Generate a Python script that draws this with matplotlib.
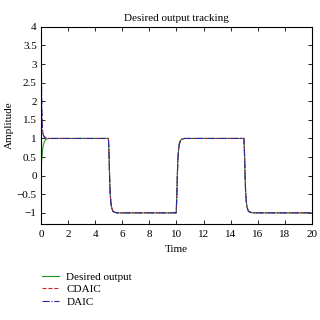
import matplotlib
matplotlib.use("Agg")
import matplotlib.pyplot as plt

plt.rcParams["font.family"] = ["Liberation Serif", "DejaVu Serif"]
plt.rcParams["font.size"] = 8

# time samples (step changes at 5, 10, 15)
time = [0.0, 0.02, 0.05, 0.1, 0.15, 0.2, 0.3, 0.4, 0.6,
        4.98, 5.03, 5.06, 5.1, 5.15, 5.2, 5.3, 5.4, 5.6,
        9.98, 10.03, 10.06, 10.1, 10.15, 10.2, 10.3, 10.4, 10.6,
        14.98, 15.03, 15.06, 15.1, 15.15, 15.2, 15.3, 15.4, 15.6,
        20.0]

desired = [0.0, 0.18, 0.40, 0.63, 0.78, 0.86, 0.95, 0.98, 1.0,
           1.0, 0.48, 0.04, -0.42, -0.68, -0.84, -0.95, -0.98, -1.0,
           -1.0, -0.48, -0.04, 0.42, 0.68, 0.84, 0.95, 0.98, 1.0,
           1.0, 0.48, 0.04, -0.42, -0.68, -0.84, -0.95, -0.98, -1.0,
           -1.0]

cdaic = [2.5, 2.2, 1.75, 1.3, 1.15, 1.08, 1.03, 1.01, 1.0,
         1.0, 0.48, 0.04, -0.42, -0.68, -0.84, -0.95, -0.98, -1.0,
         -1.0, -0.48, -0.04, 0.42, 0.68, 0.84, 0.95, 0.98, 1.0,
         1.0, 0.48, 0.04, -0.42, -0.68, -0.84, -0.95, -0.98, -1.0,
         -1.0]

daic = [4.0, 3.3, 2.3, 1.2, 1.12, 1.06, 1.02, 1.0, 1.0,
        1.0, 0.48, 0.04, -0.42, -0.68, -0.84, -0.95, -0.98, -1.0,
        -1.0, -0.48, -0.04, 0.42, 0.68, 0.84, 0.95, 0.98, 1.0,
        1.0, 0.48, 0.04, -0.42, -0.68, -0.84, -0.95, -0.98, -1.0,
        -1.0]

x_ticks = list(range(0, 21, 2))
y_ticks = [-1, -0.5, 0, 0.5, 1, 1.5, 2, 2.5, 3, 3.5, 4]
y_labels = ["\u22121", "\u22120.5", "0", "0.5", "1", "1.5", "2", "2.5", "3", "3.5", "4"]

fig = plt.figure(figsize=(3.2, 3.2), dpi=100)
ax = fig.add_axes([0.128, 0.30, 0.847, 0.616])

ax.plot(time, desired, color=(0.1, 0.6, 0.1), lw=0.8, label="Desired output")
ax.plot(time, cdaic, color=(0.8, 0.15, 0.15), lw=0.8, ls="--", label="CDAIC")
ax.plot(time, daic, color=(0.15, 0.15, 0.65), lw=0.8, ls="-.", label="DAIC")

ax.set_xlim(0, 20)
ax.set_ylim(-1.3, 4)
ax.set_xticks(x_ticks)
ax.set_yticks(y_ticks)
ax.set_yticklabels(y_labels)
ax.tick_params(direction="in", top=True, right=True, length=3, width=0.6, pad=3)
ax.tick_params(axis="x", pad=4.5)
for s in ax.spines.values():
    s.set_linewidth(0.8)

ax.set_title("Desired output tracking", fontsize=8, pad=4)
ax.set_xlabel("Time", labelpad=4)
ax.set_ylabel("Amplitude", labelpad=2)

fig.legend(loc="upper left", bbox_to_anchor=(0.1, 0.182), frameon=False,
           handlelength=1.5, handletextpad=0.7, labelspacing=0.25, fontsize=8)

fig.savefig("out.png", dpi=100)
